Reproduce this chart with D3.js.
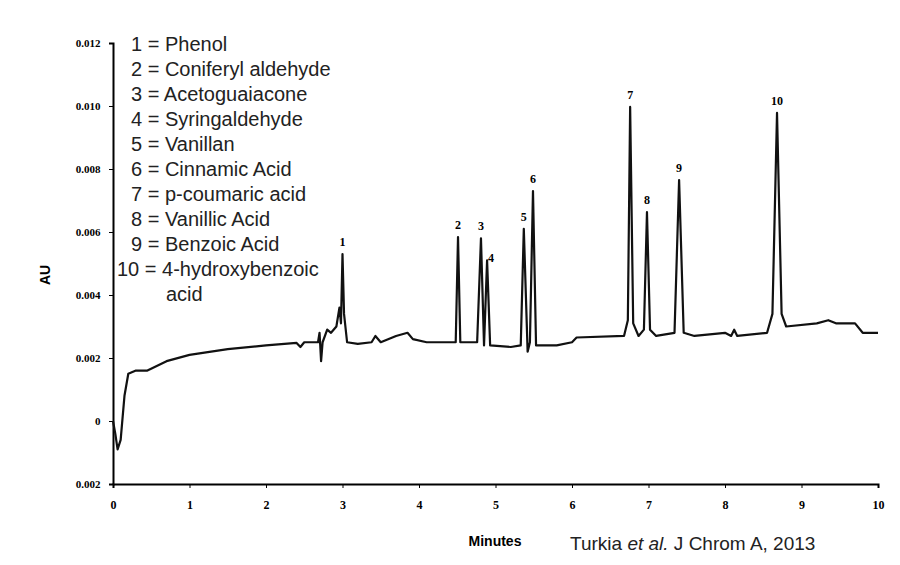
<!DOCTYPE html>
<html><head><meta charset="utf-8">
<script src="https://cdn.jsdelivr.net/npm/d3@7"></script>
<style>body{margin:0;background:#fff}</style>
</head><body>
<svg id="c" width="900" height="565"></svg>
<script>
// chromatogram trace: [minutes, AU]
const trace = [
  [0,0],[0.03,-0.0004],[0.06,-0.0009],[0.1,-0.0006],[0.15,0.0008],[0.2,0.0015],[0.3,0.0016],[0.45,0.0016],
  [0.7,0.0019],[1,0.0021],[1.5,0.00228],[2,0.0024],[2.4,0.00248],[2.45,0.00235],[2.5,0.0025],[2.68,0.0025],
  [2.7,0.0028],[2.72,0.0019],[2.74,0.0025],[2.8,0.0029],[2.85,0.0028],[2.92,0.003],[2.96,0.0036],[2.98,0.0031],
  [3.0,0.0053],[3.02,0.0034],[3.06,0.0025],[3.2,0.00245],[3.38,0.0025],[3.43,0.0027],[3.5,0.0025],[3.7,0.0027],
  [3.85,0.0028],[3.92,0.0026],[4.1,0.0025],[4.48,0.0025],[4.51,0.00584],[4.54,0.0025],[4.76,0.0025],[4.81,0.0058],
  [4.85,0.0024],[4.89,0.0051],[4.93,0.0024],[5.2,0.00235],[5.33,0.0024],[5.37,0.0061],[5.42,0.0022],[5.45,0.0025],
  [5.49,0.0073],[5.53,0.0024],[5.8,0.0024],[6.0,0.0025],[6.06,0.00265],[6.68,0.0027],[6.73,0.0032],[6.76,0.00997],
  [6.8,0.0031],[6.87,0.0027],[6.94,0.0029],[6.98,0.00663],[7.02,0.0029],[7.1,0.0027],[7.34,0.0028],[7.4,0.00765],
  [7.46,0.0028],[7.6,0.0027],[8.0,0.0028],[8.08,0.0027],[8.12,0.0029],[8.16,0.0027],[8.55,0.0028],[8.62,0.0034],
  [8.68,0.00978],[8.74,0.0034],[8.8,0.003],[9.2,0.0031],[9.35,0.0032],[9.45,0.0031],[9.7,0.0031],[9.8,0.0028],[10,0.0028]
];
const peakLabels = ["1","2","3","4","5","6","7","8","9","10"];
const peakTimes = [3.0,4.51,4.81,4.89,5.37,5.49,6.76,6.98,7.4,8.68];
const peakTops = [0.0053,0.00584,0.0058,0.0051,0.0061,0.0073,0.00997,0.00663,0.00765,0.00978];
const legend = ["1 = Phenol","2 = Coniferyl aldehyde","3 = Acetoguaiacone","4 = Syringaldehyde","5 = Vanillan",
  "6 = Cinnamic Acid","7 = p-coumaric acid","8 = Vanillic Acid","9 = Benzoic Acid","10 = 4-hydroxybenzoic"];
const xTicks = [0,1,2,3,4,5,6,7,8,9,10];
const yTicks = [-0.002,0,0.002,0.004,0.006,0.008,0.010,0.012];

const svg = d3.select("#c");
const x = d3.scaleLinear().domain([0,10]).range([113,878]);
const y = d3.scaleLinear().domain([-0.002,0.012]).range([484,43]);

const tickFont = "Liberation Serif";
svg.append("g").attr("transform","translate(0,484)")
  .call(d3.axisBottom(x).tickValues(xTicks).tickSize(4).tickFormat(d3.format("d")))
  .call(g=>{g.select(".domain").attr("stroke-width",2);
    g.selectAll("text").attr("font-family",tickFont).attr("font-weight","bold").attr("font-size",12).attr("dy","1.5em");});
svg.append("g").attr("transform","translate(113,0)")
  .call(d3.axisLeft(y).tickValues(yTicks).tickSize(4).tickFormat(d=>d===0?"0":Math.abs(d).toFixed(3)))
  .call(g=>{g.select(".domain").attr("stroke-width",2);
    g.selectAll("text").attr("font-family",tickFont).attr("font-weight","bold").attr("font-size",11).attr("dx","-0.5em");});

svg.append("path").datum(trace)
  .attr("fill","none").attr("stroke","#111").attr("stroke-width",2.2).attr("stroke-linejoin","round")
  .attr("d",d3.line().x(d=>x(d[0])).y(d=>y(d[1])));

svg.append("g").selectAll("text").data(peakLabels).join("text")
  .attr("x",(d,i)=>x(peakTimes[i])+(i===3?4:0)).attr("y",(d,i)=>y(peakTops[i])-(i===3?-2:8))
  .attr("text-anchor","middle").attr("font-family",tickFont).attr("font-weight","bold").attr("font-size",12)
  .text(d=>d);

svg.append("g").selectAll("text").data(legend).join("text")
  .attr("x",(d,i)=>i===9?117:131).attr("y",(d,i)=>51+i*25)
  .attr("font-family","Liberation Sans").attr("font-size",20).attr("fill","#222").text(d=>d);
svg.append("text").attr("x",166).attr("y",301).attr("font-family","Liberation Sans").attr("font-size",20).attr("fill","#222").text("acid");

svg.append("text").attr("transform","translate(50,275) rotate(-90)").attr("text-anchor","middle")
  .attr("font-family","Liberation Sans").attr("font-weight","bold").attr("font-size",14).text("AU");
svg.append("text").attr("x",495).attr("y",546).attr("text-anchor","middle")
  .attr("font-family","Liberation Sans Narrow, Liberation Sans").attr("font-weight","bold").attr("font-size",14).text("Minutes");
const cap = svg.append("text").attr("x",570).attr("y",550).attr("font-family","Liberation Sans").attr("font-size",19).attr("fill","#222");
cap.append("tspan").text("Turkia ");
cap.append("tspan").attr("font-style","italic").text("et al.");
cap.append("tspan").text(" J Chrom A, 2013");
</script>
</body></html>
